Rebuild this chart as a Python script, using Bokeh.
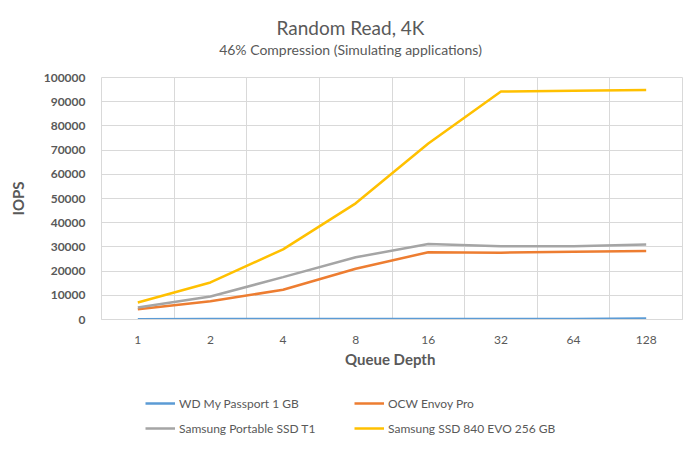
from bokeh.plotting import figure
from bokeh.layouts import column
from bokeh.models import (Label, FixedTicker, Legend, LegendItem, Range1d)
from bokeh.embed import file_html
from bokeh.resources import INLINE

queue_depth = ["1", "2", "4", "8", "16", "32", "64", "128"]
wd_passport = [150, 170, 180, 190, 200, 200, 220, 450]
ocw_envoy = [4200, 7500, 12300, 21000, 27800, 27600, 28000, 28300]
samsung_t1 = [5000, 9500, 17500, 25700, 31200, 30300, 30300, 31000]
samsung_840 = [7000, 15300, 29000, 48000, 72700, 94200, 94500, 94800]
y_ticks = list(range(0, 100001, 10000))
series_names = ["WD My Passport 1 GB", "OCW Envoy Pro",
                "Samsung Portable SSD T1", "Samsung SSD 840 EVO 256 GB"]
series_colors = ["#5B9BD5", "#ED7D31", "#A5A5A5", "#FFC000"]
title_text = "Random Read, 4K"
subtitle_text = "46% Compression (Simulating applications)"

FONT = "Lato"
TXT = "#595959"
GRID = "#d9d9d9"
W = 700
LEFT, FW, RIGHT = 101, 581, 18


def strip(h):
    # same horizontal frame as the main chart, so the column keeps everything aligned
    f = figure(frame_width=FW, frame_height=h, output_backend="svg", toolbar_location=None,
               x_range=Range1d(-LEFT, FW + RIGHT), y_range=Range1d(h, 0),
               min_border_left=LEFT, min_border_right=RIGHT,
               min_border_top=0, min_border_bottom=0)
    f.axis.visible = False
    f.grid.visible = False
    f.outline_line_color = None
    return f


# ---- title strip (x in canvas pixels measured from the left edge minus LEFT) ----
head = strip(67)
head.x_range = Range1d(0, FW)
head.add_layout(Label(x=W / 2 - LEFT, y=27, text=title_text, text_align="center",
                      text_baseline="middle", text_font=FONT, text_font_size="19px",
                      text_color=TXT))
head.add_layout(Label(x=W / 2 - LEFT, y=49, text=subtitle_text, text_align="center",
                      text_baseline="middle", text_font=FONT, text_font_size="14px",
                      text_color=TXT))

# ---- main chart ----
xpos = [i + 0.5 for i in range(len(queue_depth))]
p = figure(frame_width=FW, frame_height=242, output_backend="svg", toolbar_location=None,
           x_range=Range1d(0, len(queue_depth)), y_range=Range1d(0, 100000),
           min_border_left=LEFT, min_border_right=RIGHT, min_border_top=10,
           min_border_bottom=51)
p.outline_line_color = GRID
p.outline_line_width = 1

p.xaxis.ticker = FixedTicker(ticks=xpos)
p.xaxis.major_label_overrides = {x: q for x, q in zip(xpos, queue_depth)}
p.xaxis.axis_label = "Queue  Depth"
p.yaxis.ticker = FixedTicker(ticks=y_ticks)
p.yaxis.axis_label = "IOPS"
p.yaxis.formatter.use_scientific = False
for ax in (p.xaxis, p.yaxis):
    ax.major_tick_line_color = None
    ax.minor_tick_line_color = None
    ax.major_label_text_font = FONT
    ax.major_label_text_font_size = "12px"
    ax.major_label_text_color = TXT
    ax.axis_label_text_font = FONT
    ax.axis_label_text_font_size = "15px"
    ax.axis_label_text_font_style = "bold"
    ax.axis_label_text_color = TXT
p.xaxis.axis_line_color = GRID
p.yaxis.axis_line_color = None
p.yaxis.major_label_text_font_style = "bold"
p.xaxis.major_label_standoff = 10
p.yaxis.major_label_standoff = 10
p.xaxis.axis_label_standoff = 3
p.yaxis.axis_label_standoff = 14

p.xgrid.ticker = FixedTicker(ticks=list(range(1, len(queue_depth))))
p.xgrid.grid_line_color = GRID
p.ygrid.grid_line_color = GRID

for vals, col in zip([wd_passport, ocw_envoy, samsung_t1, samsung_840], series_colors):
    p.line(xpos, vals, line_color=col, line_width=2.5)

# ---- legend strip (legend-key renderers sit outside the strip's visible range) ----
foot = strip(81)
foot.x_range = Range1d(0, 1)
foot.y_range = Range1d(0, 1)
items = {}
for name, col in zip(series_names, series_colors):
    r = foot.line(x=[-5, -4], y=[-5, -5], line_color=col, line_width=2.5)
    items[name] = LegendItem(label=name, renderers=[r])
legend_order = [series_names[0], series_names[2], series_names[1], series_names[3]]
legend = Legend(items=[items[n] for n in legend_order], ncols=2, location=(44, 13),
                glyph_width=30, glyph_height=20, label_height=20,
                label_width=170, label_standoff=4, spacing=5, padding=0,
                margin=0, border_line_color=None, background_fill_alpha=0,
                label_text_font=FONT, label_text_font_size="12px",
                label_text_color=TXT)
foot.add_layout(legend, "center")

layout = column(head, p, foot, spacing=0)
open("out.html", "w").write(file_html(layout, INLINE))
